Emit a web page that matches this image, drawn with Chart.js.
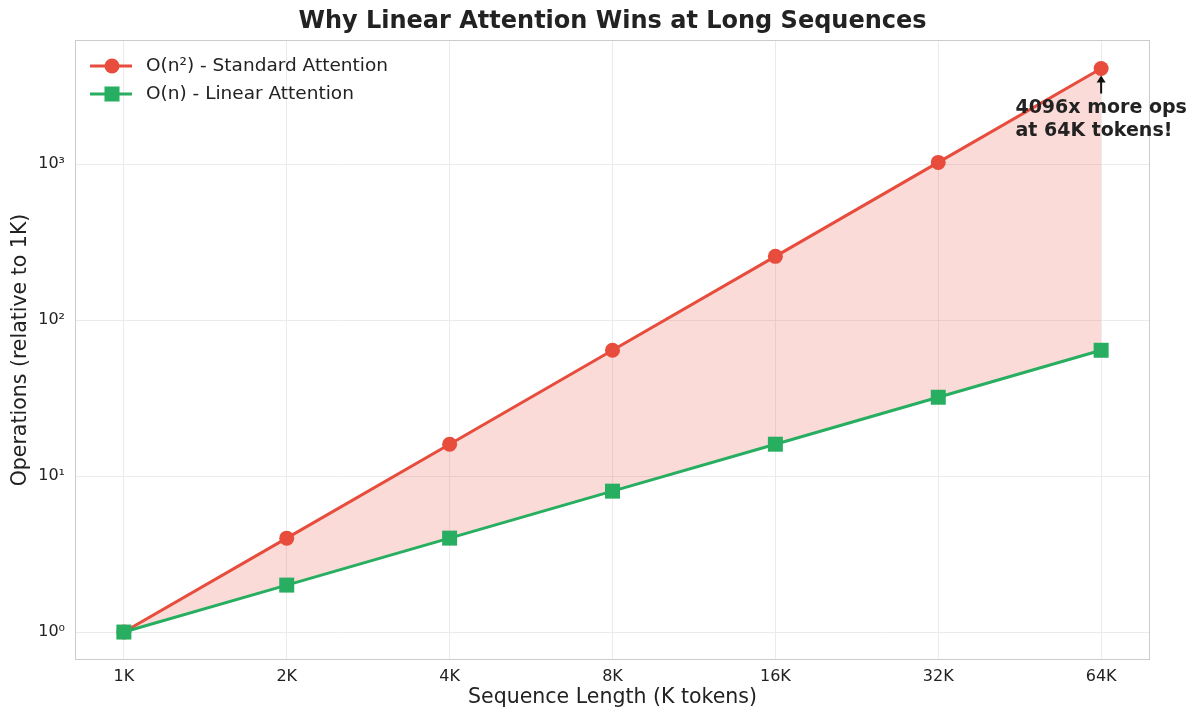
<!DOCTYPE html>
<html>
<head>
<meta charset="utf-8">
<script src="https://cdn.jsdelivr.net/npm/chart.js@4.4.1/dist/chart.umd.min.js"></script>
<style>
  html, body { margin: 0; padding: 0; background: #fff; }
  #wrap { width: 1200px; height: 722px; }
</style>
</head>
<body>
<div id="wrap"><canvas id="chart" width="1200" height="722"></canvas></div>
<script>
'use strict';

// ── Data ──────────────────────────────────────────────────────────────
const seqLabels = ['1K', '2K', '4K', '8K', '16K', '32K', '64K'];
const standardOps = [1, 4, 16, 64, 256, 1024, 4096];
const linearOps = [1, 2, 4, 8, 16, 32, 64];
const yTickValues = [1, 10, 100, 1000];
const yTickText = ['10⁰', '10¹', '10²', '10³'];

const RED = '#e74c3c';
const GREEN = '#27ae60';
const FONT = "'DejaVu Sans', sans-serif";
const TEXT = '#222222';

const toPoints = arr => arr.map((v, i) => ({ x: i, y: v }));

// ── Title, frame, legend and annotation drawn on top ──────────────────
const decorPlugin = {
  id: 'decor',
  beforeDatasetsDraw(chart) {
    const { ctx, chartArea: a } = chart;
    ctx.save();
    ctx.strokeStyle = '#cccccc';
    ctx.lineWidth = 1;
    ctx.strokeRect(a.left + 0.5, a.top + 0.5, a.right - a.left - 1, a.bottom - a.top - 1);
    ctx.restore();
  },
  afterDraw(chart) {
    const { ctx, chartArea: a, scales } = chart;
    ctx.save();

    // title
    ctx.fillStyle = TEXT;
    ctx.font = `bold 24px ${FONT}`;
    ctx.textAlign = 'center';
    ctx.textBaseline = 'middle';
    ctx.fillText('Why Linear Attention Wins at Long Sequences', (a.left + a.right) / 2, 22);

    // legend
    const rows = [
      { label: 'O(n²) - Standard Attention', color: RED, shape: 'circle' },
      { label: 'O(n) - Linear Attention', color: GREEN, shape: 'rect' },
    ];
    rows.forEach((r, i) => {
      const y = 66 + i * 28;
      ctx.strokeStyle = r.color;
      ctx.lineWidth = 3;
      ctx.beginPath();
      ctx.moveTo(a.left + 15, y);
      ctx.lineTo(a.left + 57, y);
      ctx.stroke();
      ctx.fillStyle = r.color;
      const cx = a.left + 37;
      if (r.shape === 'circle') {
        ctx.beginPath();
        ctx.arc(cx, y, 7.5, 0, Math.PI * 2);
        ctx.fill();
      } else {
        ctx.fillRect(cx - 7.5, y - 7.5, 15, 15);
      }
      ctx.fillStyle = TEXT;
      ctx.font = `18.5px ${FONT}`;
      ctx.textAlign = 'left';
      ctx.textBaseline = 'middle';
      ctx.fillText(r.label, a.left + 71, y);
    });

    // annotation
    const px = scales.x.getPixelForValue(standardOps.length - 1);
    const py = scales.y.getPixelForValue(standardOps[standardOps.length - 1]);
    ctx.font = `bold 19px ${FONT}`;
    const lines = ['4096x more ops', 'at 64K tokens!'];
    const w = Math.max(...lines.map(l => ctx.measureText(l).width));
    const tx = px - w / 2;
    ctx.fillStyle = TEXT;
    ctx.textAlign = 'left';
    ctx.textBaseline = 'middle';
    ctx.fillText(lines[0], tx, py + 40);
    ctx.fillText(lines[1], tx, py + 63);
    // arrow
    ctx.strokeStyle = '#111';
    ctx.fillStyle = '#111';
    ctx.lineWidth = 2;
    ctx.beginPath();
    ctx.moveTo(px, py + 25);
    ctx.lineTo(px, py + 10);
    ctx.stroke();
    ctx.beginPath();
    ctx.moveTo(px, py + 7);
    ctx.lineTo(px - 4.5, py + 14);
    ctx.lineTo(px + 4.5, py + 14);
    ctx.closePath();
    ctx.fill();

    ctx.restore();
  },
};

new Chart(document.getElementById('chart'), {
  type: 'line',
  data: {
    datasets: [
      {
        label: 'O(n²) - Standard Attention',
        data: toPoints(standardOps),
        borderColor: RED,
        borderWidth: 3,
        backgroundColor: 'rgba(231,76,60,0.2)',
        fill: '+1',
        pointStyle: 'circle',
        pointRadius: 7.5,
        pointBackgroundColor: RED,
        pointBorderWidth: 0,
        tension: 0,
        order: 1,
      },
      {
        label: 'O(n) - Linear Attention',
        data: toPoints(linearOps),
        borderColor: GREEN,
        borderWidth: 3,
        fill: false,
        pointStyle: 'rect',
        pointRadius: 10.6,
        pointBackgroundColor: GREEN,
        pointBorderWidth: 0,
        tension: 0,
        order: 0,
      },
    ],
  },
  options: {
    responsive: false,
    animation: false,
    layout: { padding: { top: 40, right: 50, left: 0, bottom: 0 } },
    plugins: {
      legend: { display: false },
      title: { display: false },
      tooltip: { enabled: false },
    },
    scales: {
      x: {
        type: 'linear',
        min: -0.3,
        max: 6.3,
        afterBuildTicks: s => { s.ticks = seqLabels.map((_, i) => ({ value: i })); },
        afterFit: s => { s.height = 62; },
        ticks: {
          callback: v => seqLabels[v],
          color: TEXT,
          font: { family: FONT, size: 16 },
          padding: 7,
          maxRotation: 0,
        },
        grid: { color: '#ebebeb', drawTicks: false },
        border: { display: false },
        title: {
          display: true,
          text: 'Sequence Length (K tokens)',
          color: TEXT,
          font: { family: FONT, size: 20.5 },
          padding: { top: 0, bottom: 12 },
        },
      },
      y: {
        type: 'logarithmic',
        min: 0.662,
        max: 6237,
        afterBuildTicks: s => { s.ticks = yTickValues.map(v => ({ value: v })); },
        afterFit: s => { s.width = 75; },
        ticks: {
          callback: v => yTickText[yTickValues.indexOf(v)],
          color: TEXT,
          font: { family: FONT, size: 16 },
          padding: 10,
        },
        grid: { color: '#ebebeb', drawTicks: false },
        border: { display: false },
        title: {
          display: true,
          text: 'Operations (relative to 1K)',
          color: TEXT,
          font: { family: FONT, size: 20.5 },
          padding: { top: 8, bottom: 0 },
        },
      },
    },
  },
  plugins: [decorPlugin],
});
</script>
</body>
</html>
